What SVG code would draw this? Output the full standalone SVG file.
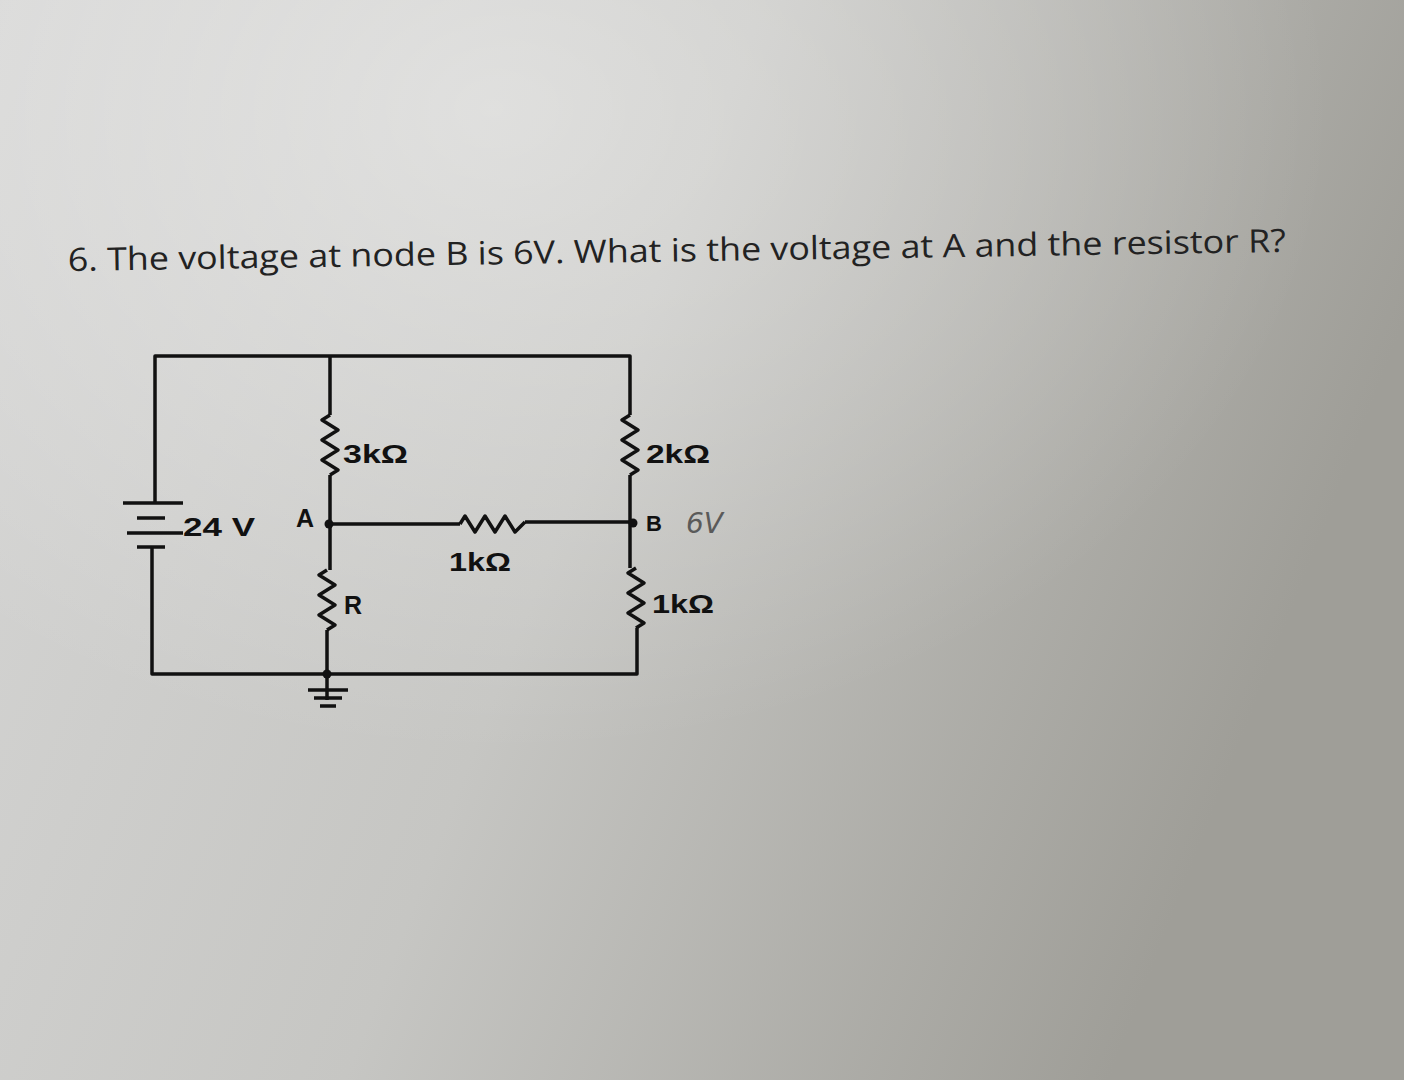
<svg xmlns="http://www.w3.org/2000/svg" width="1404" height="1080" viewBox="0 0 1404 1080">
<defs>
<linearGradient id="bg" x1="0" y1="0" x2="1" y2="0.3">
<stop offset="0" stop-color="#d6d6d5"/><stop offset="0.5" stop-color="#c6c6c3"/><stop offset="1" stop-color="#9f9e98"/>
</linearGradient>
<radialGradient id="hl" cx="0.35" cy="0.1" r="0.6"><stop offset="0" stop-color="#fff" stop-opacity="0.4"/><stop offset="1" stop-color="#fff" stop-opacity="0"/></radialGradient>
</defs>
<style>
.w{stroke:#111;stroke-width:3.5;fill:none;stroke-linejoin:round}
.l{font-family:"Liberation Sans",Arial,sans-serif;font-weight:bold;font-size:25px;fill:#111}
.t{font-family:"Open Sans","Noto Sans",sans-serif;font-size:32px;fill:#222}
.d{fill:#111}
</style>
<rect width="1404" height="1080" fill="url(#bg)"/>
<rect width="1404" height="1080" fill="url(#hl)"/>
<text class="t" x="68" y="271" textLength="1218" lengthAdjust="spacingAndGlyphs" transform="rotate(-0.9 68 271)">6. The voltage at node B is 6V.  What is the voltage at A and the resistor R?</text>
<g id="connectors">
<path class="w" d="M155 503 V356 H630 V415"/>
<path class="w" d="M152 547 V674 H637 V628"/>
<path class="w" d="M330 356 V415 M330 475 V570 M327 630 V700"/>
<path class="w" d="M328 524 H460 M525 522 H634"/>
<path class="w" d="M630 475 V568"/>
</g>
<g id="battery">
<path class="w" d="M123 503 H183 M137 518 H165 M127 533 H183 M137 547 H165"/>
<text class="l" x="183" y="536" textLength="72" lengthAdjust="spacingAndGlyphs">24 V</text>
</g>
<g id="r3k"><path class="w" d="M330 415 l-8 5 l16 10 l-16 10 l16 10 l-16 10 l16 10 l-8 5"/><text class="l" x="343" y="463" textLength="65" lengthAdjust="spacingAndGlyphs">3kΩ</text></g>
<g id="nodeA"><circle class="d" cx="329" cy="524" r="4.5"/><text class="l" x="296" y="527">A</text></g>
<g id="r1k"><path class="w" d="M460 524 l5 -8 l10 16 l10 -16 l10 16 l10 -16 l10 16 l10 -10"/><text class="l" x="449" y="571" textLength="62" lengthAdjust="spacingAndGlyphs">1kΩ</text></g>
<g id="r2k"><path class="w" d="M630 415 l-8 5 l16 10 l-16 10 l16 10 l-16 10 l16 10 l-8 5"/><text class="l" x="646" y="463" textLength="64" lengthAdjust="spacingAndGlyphs">2kΩ</text></g>
<g id="nodeB"><circle class="d" cx="633" cy="523" r="4.5"/><text class="l" x="646" y="531" style="font-size:22px">B</text>
<text x="686" y="533" style="font-family:'DejaVu Sans',sans-serif;font-size:28px;fill:#5a5a5a;font-style:italic">6V</text></g>
<g id="rR"><path class="w" d="M327 570 l-8 5 l16 10 l-16 10 l16 10 l-16 10 l16 10 l-8 5"/><text class="l" x="344" y="614">R</text></g>
<g id="r1k2"><path class="w" d="M636 568 l-8 5 l16 10 l-16 10 l16 10 l-16 10 l16 10 l-8 5"/><text class="l" x="652" y="613" textLength="62" lengthAdjust="spacingAndGlyphs">1kΩ</text></g>
<g id="ground"><circle class="d" cx="327" cy="674" r="4.5"/><path class="w" d="M308 690 H348 M314 698 H342 M320 706 H336"/></g>
</svg>
